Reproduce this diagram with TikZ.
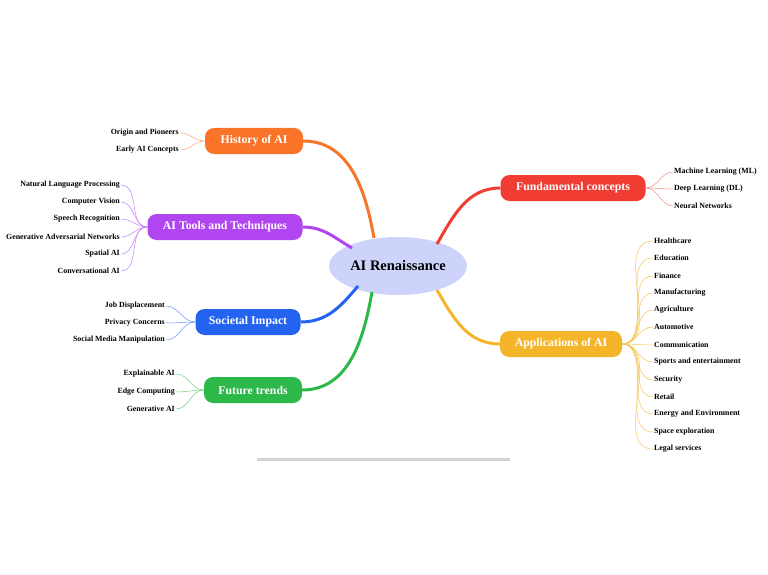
\documentclass[tikz,border=0pt]{standalone}
\usepackage{fontspec}
\setmainfont{Liberation Serif}
\usetikzlibrary{shapes.geometric}
\definecolor{cor}{HTML}{F97428}
\definecolor{cpu}{HTML}{B146F0}
\definecolor{cbl}{HTML}{2463F0}
\definecolor{cgr}{HTML}{2DB84A}
\definecolor{cre}{HTML}{F03C32}
\definecolor{cye}{HTML}{F5B52A}
\definecolor{cce}{HTML}{CDD3FA}
\begin{document}
\begin{tikzpicture}[x=1pt,y=-1pt,
  br/.style={rounded corners=9pt,minimum height=26pt,text=white,font=\fontsize{11.8}{13}\selectfont\bfseries,inner xsep=6pt},
  lfl/.style={anchor=east,font=\fontsize{7.9}{9}\selectfont\bfseries,inner sep=1pt},
  lfr/.style={anchor=west,font=\fontsize{7.9}{9}\selectfont\bfseries,inner sep=1pt},
  main/.style={line width=3pt},
  thin/.style={line width=0.5pt}]
\useasboundingbox (0,0) rectangle (768,575);
\fill[gray!35] (257,457.5) rectangle (510,461);
\node[ellipse,fill=cce,minimum width=110pt,minimum height=58pt,inner sep=1pt,font=\fontsize{14.5}{16}\selectfont\bfseries] (c) at (398,266) {AI Renaissance};
\node[br,fill=cor,minimum width=98pt] (h) at (254,141) {History of AI};
\node[br,fill=cpu,minimum width=155pt] (t) at (225,227) {AI Tools and Techniques};
\node[br,fill=cbl,minimum width=105pt] (s) at (248,322) {Societal Impact};
\node[br,fill=cgr,minimum width=98pt] (f) at (253,390) {Future trends};
\node[br,fill=cre,minimum width=145pt] (fc) at (573,188) {Fundamental concepts};
\node[br,fill=cye,minimum width=122pt] (a) at (561,344) {Applications of AI};
\draw[main,cor] (h.east) to[out=0,in=100] (374,238);
\draw[main,cpu] (t.east) to[out=0,in=150] (352,248);
\draw[main,cbl] (s.east) to[out=0,in=230] (358,286);
\draw[main,cgr] (f.east) to[out=0,in=260] (372,292);
\draw[main,cre] (fc.west) to[out=180,in=60] (437,244);
\draw[main,cye] (a.west) to[out=180,in=300] (437,290);
\foreach \n/\y/\t in {h1/133/Origin and Pioneers,h2/150/Early AI Concepts}{
  \node[lfl] (\n) at (180,\y) {\t};
  \draw[thin,cor!70] (h.west) to[out=180,in=0] (\n.east);}
\foreach \n/\y/\t in {t1/185/Natural Language Processing,t2/202/Computer Vision,t3/219/Speech Recognition,t4/237/Generative Adversarial Networks,t5/254/Spatial AI,t6/271/Conversational AI}{
  \node[lfl] (\n) at (121,\y) {\t};
  \draw[thin,cpu!70] (t.west) to[out=180,in=0] (\n.east);}
\foreach \n/\y/\t in {s1/306/Job Displacement,s2/323/Privacy Concerns,s3/340/Social Media Manipulation}{
  \node[lfl] (\n) at (166,\y) {\t};
  \draw[thin,cbl!70] (s.west) to[out=180,in=0] (\n.east);}
\foreach \n/\y/\t in {f1/374/Explainable AI,f2/392/Edge Computing,f3/409/Generative AI}{
  \node[lfl] (\n) at (176,\y) {\t};
  \draw[thin,cgr!70] (f.west) to[out=180,in=0] (\n.east);}
\foreach \n/\y/\t in {r1/172/Machine Learning (ML),r2/189/Deep Learning (DL),r3/206/Neural Networks}{
  \node[lfr] (\n) at (673,\y) {\t};
  \draw[thin,cre!60] (fc.east) to[out=0,in=180] (\n.west);}
\foreach \n/\y/\t in {a1/241/Healthcare,a2/258/Education,a3/276/Finance,a4/293/Manufacturing,a5/310/Agriculture,a6/327/Automotive,a7/345/Communication,a8/362/Sports and entertainment,a9/380/Security,a10/397/Retail,a11/414/Energy and Environment,a12/432/Space exploration,a13/449/Legal services}{
  \node[lfr] (\n) at (653,\y) {\t};
  \draw[thin,cye!80] (a.east) to[out=0,in=180] (\n.west);}
\end{tikzpicture}
\end{document}
